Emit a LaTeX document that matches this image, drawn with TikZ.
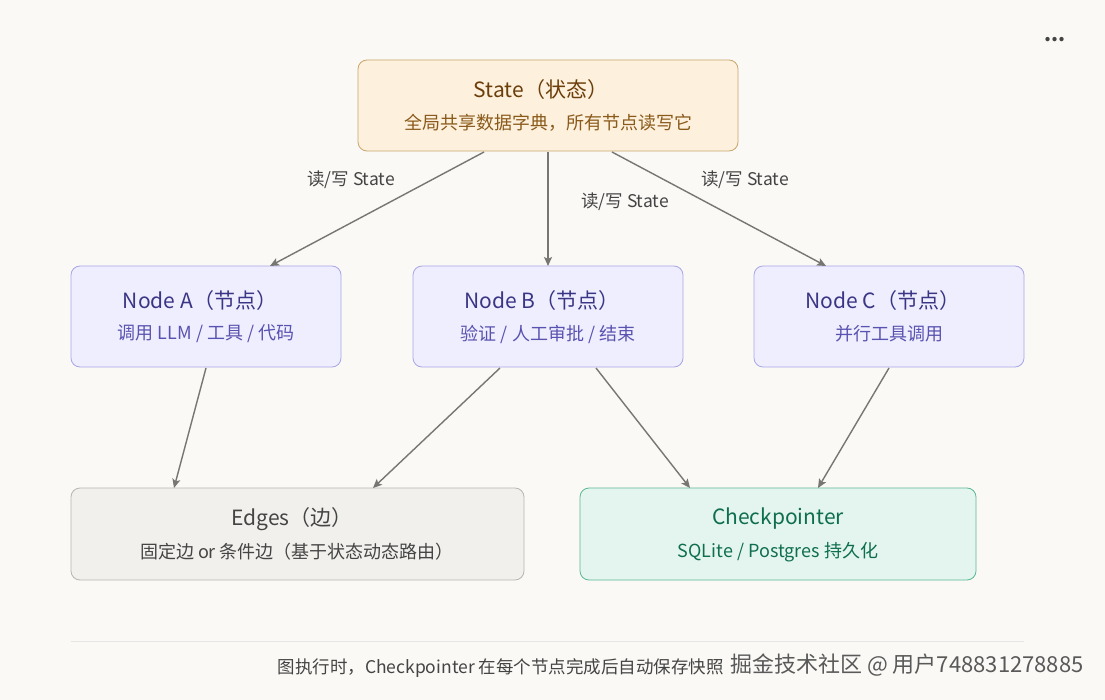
\documentclass[tikz,border=0pt]{standalone}
\usepackage{fontspec}
\setmainfont{Noto Sans CJK SC}
\usetikzlibrary{arrows.meta}
\definecolor{bg}{HTML}{FAF9F6}
\definecolor{stF}{HTML}{FDF0DD}\definecolor{stD}{HTML}{C9A56A}\definecolor{stT}{HTML}{6B3E0A}\definecolor{stS}{HTML}{8A5A1A}
\definecolor{nF}{HTML}{EEEEFE}\definecolor{nD}{HTML}{A8A6E6}\definecolor{nT}{HTML}{3B3585}\definecolor{nS}{HTML}{5A52B0}
\definecolor{eF}{HTML}{F1F0EC}\definecolor{eD}{HTML}{B8B6B0}\definecolor{eT}{HTML}{444444}
\definecolor{cF}{HTML}{E3F5EE}\definecolor{cD}{HTML}{5BB894}\definecolor{cT}{HTML}{0F6E4F}
\definecolor{ar}{HTML}{777672}
\begin{document}
\begin{tikzpicture}[x=1pt,y=-1pt,
 box/.style={draw,rounded corners=9pt,line width=0.8pt},
 ttl/.style={font=\fontsize{21}{24}\selectfont},
 sub/.style={font=\fontsize{18}{20}\selectfont},
 lab/.style={font=\fontsize{17.5}{20}\selectfont,text=eT},
 arr/.style={draw=ar,line width=1.4pt,-{Stealth[length=9pt,width=8pt,inset=2pt]}}]
\fill[bg] (0,0) rectangle (1105,700);
\useasboundingbox (0,0) rectangle (1105,700);
\node[box,fill=stF,draw=stD,minimum width=380pt,minimum height=91pt] (st) at (548,105.5) {};
\node[ttl,text=stT] (stt) at (541,90) {State（状态）};
\node[sub,text=stS] (sts) at (548,123) {全局共享数据字典，所有节点读写它};
\foreach \n/\x/\t/\s in {a/206/{Node A（节点）}/{调用 LLM / 工具 / 代码}, b/548/{Node B（节点）}/{验证 / 人工审批 / 结束}, c/889/{Node C（节点）}/{并行工具调用}}{
 \node[box,fill=nF,draw=nD,minimum width=270pt,minimum height=101pt] (\n) at (\x,316.5) {};
 \node[ttl,text=nT] (\n t) at (\x-6,301) {\t};
 \node[sub,text=nS] (\n s) at (\x,334) {\s};
}
\node[box,fill=eF,draw=eD,minimum width=453pt,minimum height=92pt] (ed) at (297.5,534) {};
\node[ttl,text=eT] (edt) at (292,519) {Edges（边）};
\node[sub,text=eT] (eds) at (297,552) {固定边 or 条件边（基于状态动态路由）};
\node[box,fill=cF,draw=cD,minimum width=396pt,minimum height=92pt] (cp) at (778,534) {};
\node[ttl,text=cT] (cpt) at (778,519) {Checkpointer};
\node[sub,text=cT] (cps) at (778,552) {SQLite / Postgres 持久化};
\coordinate (s1) at (484,152);\coordinate (s2) at (548,152);\coordinate (s3) at (612,152);
\coordinate (a1) at (270,266);\coordinate (b1) at (548,266);\coordinate (c1) at (826,266);
\draw[arr] (s1)--(a1);\draw[arr] (s2)--(b1);\draw[arr] (s3)--(c1);
\node[lab] (l1) at (351,180) {读/写 State};
\node[lab] (l2) at (625,202) {读/写 State};
\node[lab] (l3) at (745,180) {读/写 State};
\coordinate (a2) at (206,368);\coordinate (e1) at (174,488);
\coordinate (b2) at (500,368);\coordinate (e2) at (373,488);
\coordinate (b3) at (596,368);\coordinate (p1) at (690,488);
\coordinate (c2) at (889,368);\coordinate (p2) at (818,488);
\draw[arr] (a2)--(e1);\draw[arr] (b2)--(e2);\draw[arr] (b3)--(p1);\draw[arr] (c2)--(p2);
\coordinate (h1) at (71,641);\coordinate (h2) at (1024,641);
\draw[draw=black!10,line width=1pt] (h1)--(h2);
\node[anchor=west,lab] (cap) at (274,668) {图执行时，Checkpointer 在每个节点完成后自动保存快照};
\node[anchor=east,font=\fontsize{22}{24}\selectfont,text=black!65] (wm) at (1087,665) {掘金技术社区 @ 用户748831278885};
\node[font=\fontsize{20}{20}\selectfont\bfseries,text=eT] (dots) at (1055,40) {...};
\end{tikzpicture}
\end{document}
